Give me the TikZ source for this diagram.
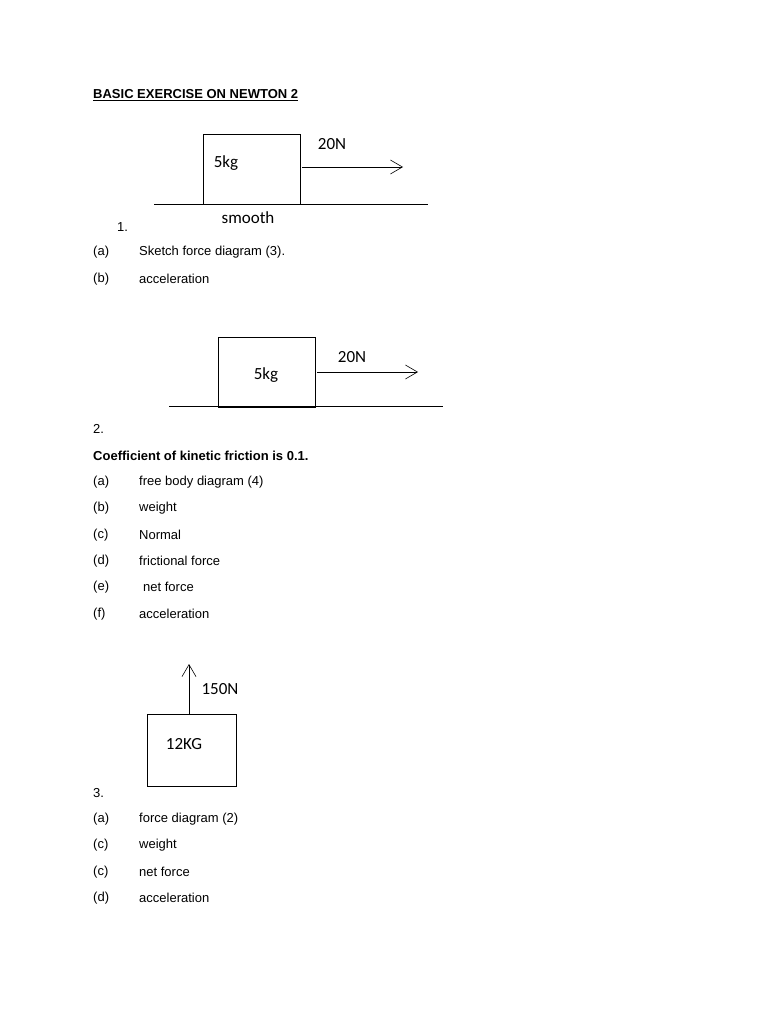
\documentclass[tikz,border=0pt]{standalone}
\usepackage{fontspec}
\setmainfont{Liberation Sans}
\newfontfamily\carfont{Carlito}
\usetikzlibrary{arrows.meta}
\begin{document}
\begin{tikzpicture}[x=1pt,y=-1pt,
  txt/.style={anchor=west,font=\fontsize{13}{15}\selectfont,inner sep=0pt},
  lbl/.style={font=\carfont\fontsize{17}{19}\selectfont,inner sep=0pt},
  blk/.style={draw,line width=0.8pt},
  gnd/.style={line width=0.6pt},
  force/.style={line width=0.6pt,-{Straight Barb[length=12pt,width=14pt]}}]
\useasboundingbox (0,0) rectangle (768,1024);
\node[txt,font=\bfseries\fontsize{13}{15}\selectfont] (title) at (93,95) {\underline{BASIC EXERCISE ON NEWTON 2}};
% diagram 1
\draw[blk] (203,134) rectangle (300,204);
\node[lbl] (m1) at (226,163) {5kg};
\coordinate (g1a) at (154,204); \coordinate (g1b) at (428,204);
\draw[gnd] (g1a) -- (g1b);
\coordinate (f1a) at (302,167); \coordinate (f1b) at (403,167);
\draw[force] (f1a) -- (f1b);
\node[lbl] (n1) at (332,144) {20N};
\node[lbl] (s1) at (248,218) {smooth};
\node[txt] (q1) at (117,227) {1.};
\node[txt] (a1) at (93,252) {(a)}; \node[txt] (a1t) at (139,252) {Sketch force diagram (3).};
\node[txt] (b1) at (93,279) {(b)}; \node[txt] (b1t) at (139,279) {acceleration};
% diagram 2
\draw[blk] (218,337) rectangle (315,407);
\node[lbl] (m2) at (266,375) {5kg};
\coordinate (g2a) at (169,406); \coordinate (g2b) at (443,406);
\draw[gnd] (g2a) -- (g2b);
\coordinate (f2a) at (317,372); \coordinate (f2b) at (418,372);
\draw[force] (f2a) -- (f2b);
\node[lbl] (n2) at (352,357) {20N};
\node[txt] (q2) at (93,429) {2.};
\node[txt,font=\bfseries\fontsize{13}{15}\selectfont] (cf) at (93,456) {Coefficient of kinetic friction is 0.1.};
\node[txt] (l1) at (93,482) {(a)}; \node[txt] (l1t) at (139,482) {free body diagram (4)};
\node[txt] (l2) at (93,508) {(b)}; \node[txt] (l2t) at (139,508) {weight};
\node[txt] (l3) at (93,535) {(c)}; \node[txt] (l3t) at (139,535) {Normal};
\node[txt] (l4) at (93,561) {(d)}; \node[txt] (l4t) at (139,561) {frictional force};
\node[txt] (l5) at (93,587) {(e)}; \node[txt] (l5t) at (143,587) {net force};
\node[txt] (l6) at (93,614) {(f)}; \node[txt] (l6t) at (139,614) {acceleration};
% diagram 3
\draw[blk] (147,714) rectangle (236,786);
\node[lbl] (m3) at (184,744) {12KG};
\coordinate (f3a) at (189,714); \coordinate (f3b) at (189,664);
\draw[force] (f3a) -- (f3b);
\node[lbl] (n3) at (220,689) {150N};
\node[txt] (q3) at (93,793) {3.};
\node[txt] (p1) at (93,819) {(a)}; \node[txt] (p1t) at (139,819) {force diagram (2)};
\node[txt] (p2) at (93,845) {(c)}; \node[txt] (p2t) at (139,845) {weight};
\node[txt] (p3) at (93,872) {(c)}; \node[txt] (p3t) at (139,872) {net force};
\node[txt] (p4) at (93,898) {(d)}; \node[txt] (p4t) at (139,898) {acceleration};
\end{tikzpicture}
\end{document}
